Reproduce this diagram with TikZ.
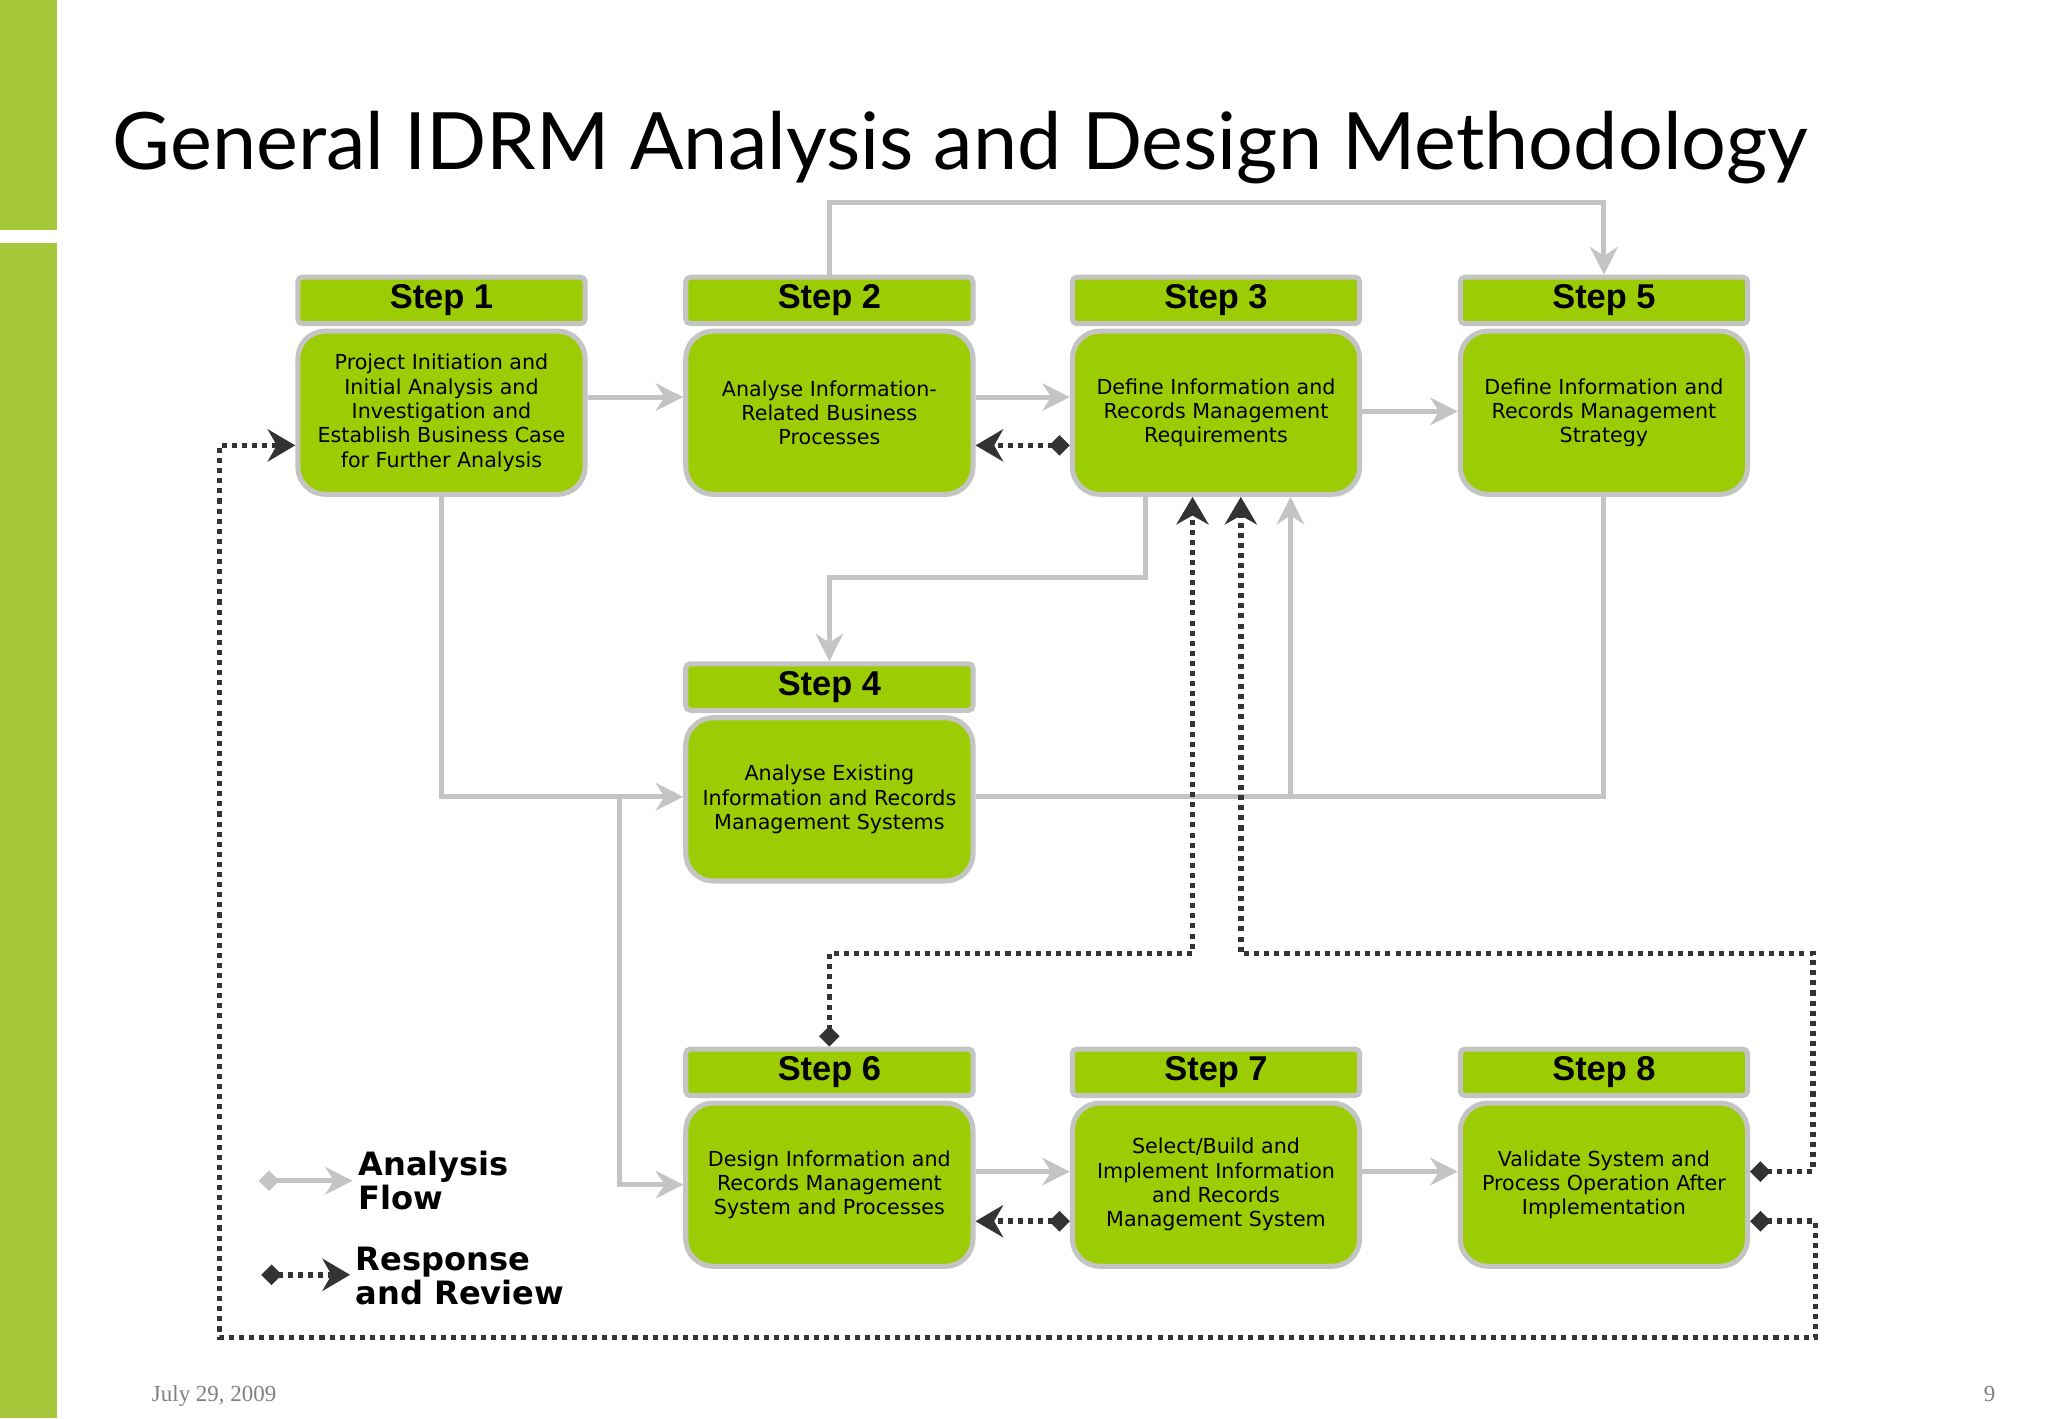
\documentclass[tikz,border=0pt]{standalone}
\usepackage{fontspec}
\setmainfont{DejaVu Sans}
\newfontfamily\stepf{Liberation Sans}
\newfontfamily\titf{Lato}
\newfontfamily\serf{Liberation Serif}
\usetikzlibrary{arrows.meta,calc}
\definecolor{lime}{HTML}{9CCC04}
\definecolor{bar}{HTML}{A5C93A}
\definecolor{bord}{HTML}{C4C4C4}
\definecolor{dk}{HTML}{333333}
\begin{document}
\begin{tikzpicture}[x=0.02cm,y=-0.02cm,
 body/.style={draw=bord,line width=2.2pt,fill=lime,rounded corners=12pt,minimum width=4.4cm,minimum height=2.5cm,align=center,font=\fontsize{9}{10.6}\selectfont},
 head/.style={draw=bord,line width=2.2pt,fill=lime,rounded corners=2pt,minimum width=4.4cm,minimum height=0.7cm,font=\stepf\bfseries\fontsize{15}{15}\selectfont},
 flow/.style={draw=bord,line width=2.2pt,-{Stealth[length=12pt,width=12pt]}},
 resp/.style={draw=dk,line width=2.4pt,dash pattern=on 2.2pt off 2.2pt,{Diamond[length=9pt,width=9pt]}-{Stealth[length=12pt,width=14pt]}}]
\useasboundingbox (0,0) rectangle (1568,1086);
\fill[white] (0,0) rectangle (1568,1086);
\fill[bar] (0,0) rectangle (44,176);
\fill[bar] (0,186) rectangle (44,1086);
\node[anchor=base west,font=\titf\fontsize{34.5}{35}\selectfont,inner sep=0] (title) at (86,130) {General IDRM Analysis and Design Methodology};
% boxes
\foreach \n/\x/\hy/\by/\s/\t in {
 1/338/230/316/Step 1/{Project Initiation and\\Initial Analysis and\\Investigation and\\Establish Business Case\\for Further Analysis},
 2/635/230/316/Step 2/{Analyse Information-\\Related Business\\Processes},
 3/931/230/316/Step 3/{Define Information and\\Records Management\\Requirements},
 5/1228/230/316/Step 5/{Define Information and\\Records Management\\Strategy},
 4/635/526/612/Step 4/{Analyse Existing\\Information and Records\\Management Systems},
 6/635/821/907/Step 6/{Design Information and\\Records Management\\System and Processes},
 7/931/821/907/Step 7/{Select/Build and\\Implement Information\\and Records\\Management System},
 8/1228/821/907/Step 8/{Validate System and\\Process Operation After\\Implementation}}{
 \node[body] (b\n) at (\x,\by) {\t};
 \node[head] (h\n) at (\x,\hy) {\s};
}
% analysis flow
\draw[flow] (b1.east |- 0,304) -- (b2.west |- 0,304);
\draw[flow] (b2.east |- 0,304) -- (b3.west |- 0,304);
\draw[flow] (b3.east |- 0,315) -- (b5.west |- 0,315);
\draw[flow] (h2.north) -- (635,155) -- (1228,155) -- (h5.north);
\draw[flow] (b3.south -| 877,0) -- (877,442) -- (635,442) -- (h4.north);
\draw[flow] (b1.south) -- (338,610) -- (b4.west |- 0,610);
\coordinate (br) at (474,610);
\draw[flow] (br) -- (474,907) -- (b6.west |- 0,907);
\draw[draw=bord,line width=2.2pt] (b4.east |- 0,610) -- (1228,610) -- (b5.south);
\draw[flow] (988,610) -- (b3.south -| 988,0);
\draw[flow] (b6.east |- 0,897) -- (b7.west |- 0,897);
\draw[flow] (b7.east |- 0,897) -- (b8.west |- 0,897);
% response
\draw[resp] (b3.west |- 0,341) -- (b2.east |- 0,341);
\draw[resp] (b7.west |- 0,935) -- (b6.east |- 0,935);
\draw[resp] (h6.north) -- (635,730) -- (913,730) -- (b3.south -| 913,0);
\draw[resp] (b8.east |- 0,897) -- (1388,897) -- (1388,730) -- (950,730) -- (b3.south -| 950,0);
\draw[resp] (b8.east |- 0,935) -- (1390,935) -- (1390,1024) -- (168,1024) -- (168,341) -- (b1.west |- 0,341);
% legend
\coordinate (la) at (198,904); \coordinate (lb) at (270,904);
\draw[flow,{Diamond[length=9pt,width=9pt]}-{Stealth[length=12pt,width=12pt]}] (la) -- (lb);
\node[anchor=west,align=left,font=\bfseries\fontsize{14}{15}\selectfont,inner sep=0] (l1) at (274,904) {Analysis\\Flow};
\coordinate (ra) at (200,976); \coordinate (rb) at (268,976);
\draw[resp] (ra) -- (rb);
\node[anchor=west,align=left,font=\bfseries\fontsize{14}{15}\selectfont,inner sep=0] (l2) at (272,977) {Response\\and Review};
\node[anchor=base west,font=\serf\fontsize{10}{10}\selectfont,text=gray,inner sep=0] (d) at (116,1073) {July 29, 2009};
\node[anchor=base east,font=\serf\fontsize{10}{10}\selectfont,text=gray,inner sep=0] (p) at (1528,1073) {9};
\end{tikzpicture}
\end{document}
